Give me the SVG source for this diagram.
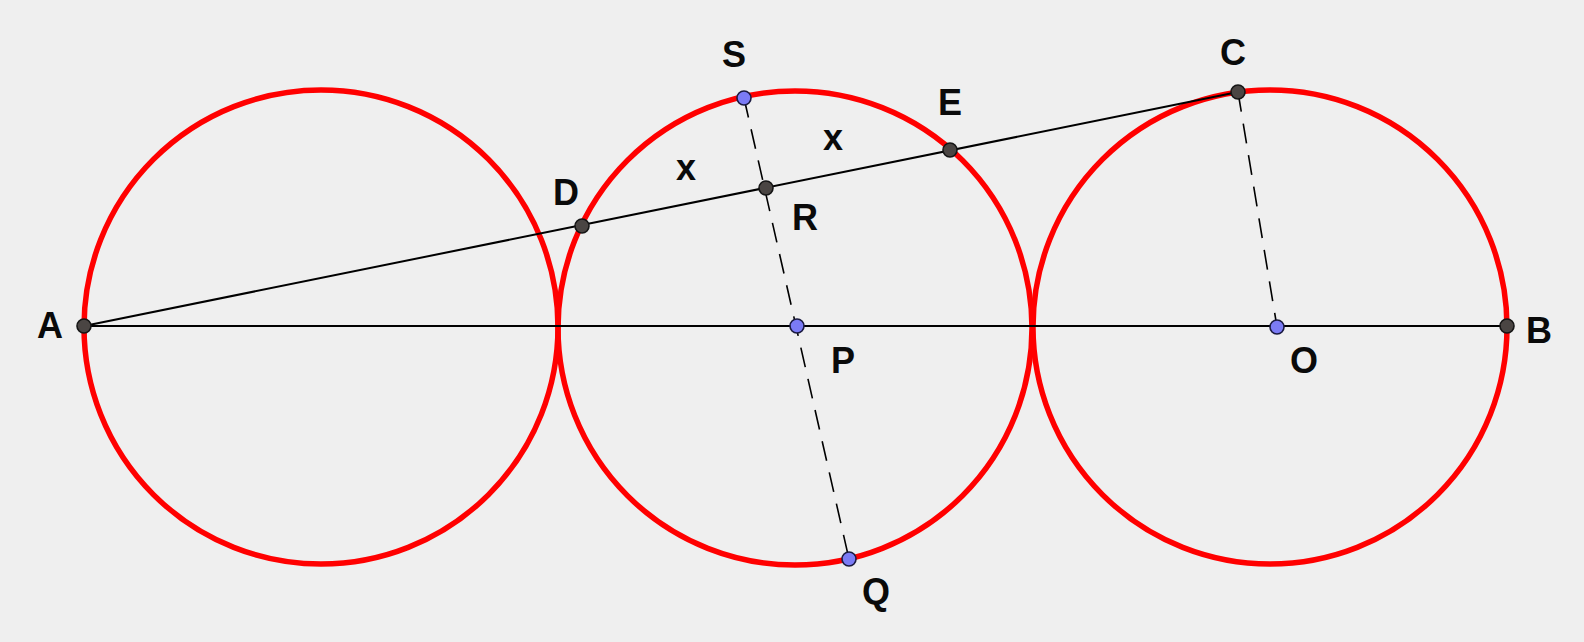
<svg xmlns="http://www.w3.org/2000/svg" width="1584" height="642" viewBox="0 0 1584 642">
<style>
.circ{fill:none;stroke:#ff0000;stroke-width:5.5}
.ln{stroke:#000;stroke-width:2;fill:none}
.dash{stroke:#000;stroke-width:1.6;fill:none;stroke-dasharray:20 12}
.pt{fill:#4a4543;stroke:#151515;stroke-width:1.6}
.bpt{fill:#7b7bf5;stroke:#1a1a40;stroke-width:1.6}
.lbl{font-family:"Liberation Sans",Arial,sans-serif;font-weight:bold;font-size:36px;fill:#0a0a0a;text-anchor:middle}
</style>
<rect width="1584" height="642" fill="#efefef"/>
<g id="circles">
<circle class="circ" cx="321" cy="327" r="237"/>
<circle class="circ" cx="795" cy="328" r="237"/>
<circle class="circ" cx="1270" cy="327" r="237"/>
</g>
<g id="connectors">
<line class="ln" x1="84" y1="326" x2="1507" y2="326"/>
<line class="ln" x1="84" y1="326" x2="1238" y2="92"/>
<line class="dash" x1="744" y1="98" x2="849" y2="559"/>
<line class="dash" x1="1238" y1="92" x2="1277" y2="327"/>
</g>
<g id="A"><circle class="pt" cx="84" cy="326" r="7"/><text class="lbl" x="50" y="338">A</text></g>
<g id="B"><circle class="pt" cx="1507" cy="326" r="7"/><text class="lbl" x="1539" y="343">B</text></g>
<g id="C"><circle class="pt" cx="1238" cy="92" r="7"/><text class="lbl" x="1233" y="65">C</text></g>
<g id="D"><circle class="pt" cx="582" cy="226" r="7"/><text class="lbl" x="566" y="205">D</text></g>
<g id="E"><circle class="pt" cx="950" cy="150" r="7"/><text class="lbl" x="950" y="115">E</text></g>
<g id="R"><circle class="pt" cx="766" cy="188" r="7"/><text class="lbl" x="805" y="230">R</text></g>
<g id="S"><circle class="bpt" cx="744" cy="98" r="7"/><text class="lbl" x="734" y="67">S</text></g>
<g id="P"><circle class="bpt" cx="797" cy="326" r="7"/><text class="lbl" x="843" y="373">P</text></g>
<g id="O"><circle class="bpt" cx="1277" cy="327" r="7"/><text class="lbl" x="1304" y="373">O</text></g>
<g id="Q"><circle class="bpt" cx="849" cy="559" r="7"/><text class="lbl" x="876" y="604">Q</text></g>
<g id="labels-x">
<text class="lbl" x="686" y="180">x</text>
<text class="lbl" x="833" y="150">x</text>
</g>
</svg>
